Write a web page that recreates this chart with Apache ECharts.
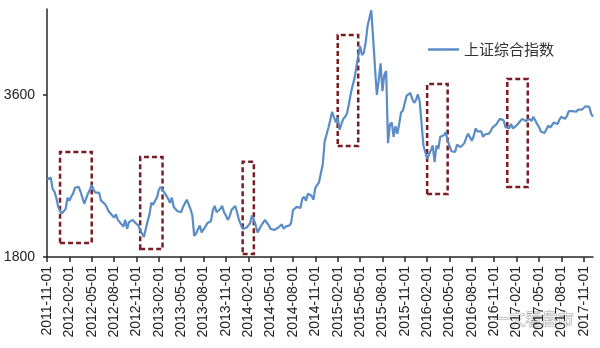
<!DOCTYPE html>
<html>
<head>
<meta charset="utf-8">
<script src="https://cdn.jsdelivr.net/npm/echarts@6/dist/echarts.min.js"></script>
<style>
  html, body { margin: 0; padding: 0; background: #fff; }
  #main { width: 600px; height: 348px; }
</style>
</head>
<body>
<div id="main"></div>
<script>
// 上证综合指数, 每月 01/08/15/22 取值
const seriesName = '上证综合指数';
const startYear = 2011, startMonth = 11;
const sampleDays = ['01', '08', '15', '22'];

const v2011 = [2510, 2500, 2530, 2410,  2380, 2320, 2230, 2190];
const v2012 = [2170, 2190, 2210, 2320,  2290, 2330, 2360, 2420,  2440, 2430, 2380, 2320,
               2260, 2310, 2360, 2400,  2450, 2400, 2370, 2350,  2370, 2290, 2300, 2260,
               2230, 2190, 2170, 2150,  2130, 2160, 2110, 2090,  2070, 2050, 2110, 2030,
               2090, 2100, 2110, 2090,  2100, 2060, 2020, 2010,  1960, 2030, 2100, 2160];
const v2013 = [2270, 2250, 2290, 2320,  2400, 2430, 2420, 2370,  2360, 2310, 2270, 2320,
               2230, 2220, 2190, 2190,  2180, 2230, 2240, 2300,  2290, 2210, 2150, 1970,
               1990, 2000, 2060, 2000,  1990, 2050, 2080, 2070,  2100, 2200, 2240, 2180,
               2170, 2210, 2240, 2180,  2150, 2110, 2140, 2200,  2220, 2240, 2180, 2110];
const v2014 = [2100, 2030, 2020, 2040,  2040, 2080, 2150, 2110,  2060, 2000, 2030, 2060,
               2070, 2110, 2100, 2060,  2030, 2040, 2020, 2030,  2040, 2030, 2070, 2030,
               2050, 2060, 2060, 2080,  2200, 2210, 2230, 2240,  2220, 2310, 2330, 2290,
               2360, 2370, 2340, 2300,  2420, 2430, 2480, 2460,  2680, 2950, 2950, 3130];
const v2015 = [3230, 3350, 3340, 3200,  3270, 3100, 3180, 3250,  3280, 3330, 3460, 3620,
               3750, 3860, 4050, 4250,  4440, 4270, 4310, 4500,  4830, 5000, 5170, 4600,
               4050, 3600, 3830, 4120,  3660, 3920, 3990, 2930,  3170, 3200, 3010, 3150,
               3050, 3180, 3340, 3370,  3380, 3590, 3600, 3630,  3540, 3480, 3520, 3610];
const v2016 = [3500, 3190, 2900, 2900,  2740, 2760, 2840, 2900,  2700, 2900, 2860, 3010,
               3010, 3030, 3070, 2960,  2960, 2830, 2830, 2820,  2910, 2930, 2880, 2880,
               2930, 3000, 3050, 3040,  2960, 3020, 3120, 3080,  3080, 3080, 3010, 3040,
               3050, 3050, 3080, 3130,  3110, 3170, 3210, 3250,  3270, 3230, 3140, 3150];
const v2017 = [3120, 3180, 3120, 3140,  3160, 3170, 3220, 3250,  3240, 3220, 3240, 3250,
               3220, 3280, 3260, 3180,  3140, 3080, 3090, 3060,  3110, 3160, 3130, 3150,
               3200, 3210, 3180, 3240,  3280, 3260, 3250, 3290,  3360, 3370, 3360, 3350,
               3350, 3380, 3390, 3380,  3390, 3430, 3440, 3420,  3320, 3280];

const values = [].concat(v2011, v2012, v2013, v2014, v2015, v2016, v2017);

// categories: one per value
const dates = [];
for (let i = 0; i < values.length; i++) {
  const m = startMonth - 1 + Math.floor(i / 4);
  const y = startYear + Math.floor(m / 12);
  const mm = String(m % 12 + 1).padStart(2, '0');
  dates.push(y + '-' + mm + '-' + sampleDays[i % 4]);
}

const yTicks = [1800, 3600];

// 红色虚线框: [起始日期, 结束日期, 下沿, 上沿]
const boxes = [
  ['2011-12-22', '2012-05-01', 1912, 2821],
  ['2012-11-15', '2013-02-15', 1862, 2761],
  ['2014-01-08', '2014-02-22', 1823, 2704],
  ['2015-02-01', '2015-04-22', 2894, 4653],
  ['2016-02-01', '2016-04-22', 2357, 3774],
  ['2016-12-22', '2017-03-15', 2429, 3855]
];

const chart = echarts.init(document.getElementById('main'));
chart.setOption({
  animation: false,
  grid: { left: 47, right: 7, top: 9, bottom: 91 },
  legend: {
    left: 423, top: 37,
    icon: 'rect',
    itemWidth: 31, itemHeight: 2.5,
    textStyle: { fontFamily: 'Noto Sans CJK SC', fontSize: 15, color: '#333' },
    data: [seriesName]
  },
  xAxis: {
    type: 'category',
    data: dates,
    boundaryGap: false,
    axisLine: { lineStyle: { color: '#262626', width: 1.5 } },
    axisTick: { interval: (i) => i % 12 === 0, length: 5, lineStyle: { color: '#262626', width: 1.5 } },
    axisLabel: {
      interval: (i) => i % 12 === 0,
      rotate: 90, margin: 9,
      fontFamily: 'Liberation Sans', fontSize: 14, color: '#222'
    }
  },
  yAxis: {
    type: 'log',
    logBase: 2,
    min: 1800, max: 5200,
    splitLine: { show: false },
    axisLine: { show: true, lineStyle: { color: '#262626', width: 1.5 } },
    axisTick: { show: true, length: 4, customValues: yTicks, lineStyle: { color: '#262626', width: 1.5 } },
    axisLabel: {
      customValues: yTicks, margin: 12,
      formatter: (v) => String(Math.round(v)),
      fontFamily: 'Liberation Sans', fontSize: 14, color: '#222'
    }
  },
  series: [{
    name: seriesName,
    type: 'line',
    data: values,
    symbol: 'none',
    lineStyle: { color: '#5a8cc6', width: 2.2 },
    itemStyle: { color: '#5a8cc6' },
    markArea: {
      silent: true,
      itemStyle: {
        color: 'rgba(0,0,0,0)',
        borderColor: '#7a1c24',
        borderWidth: 2.5,
        borderType: [5, 3]
      },
      data: boxes.map(b => [
        { xAxis: b[0], yAxis: b[2] },
        { xAxis: b[1], yAxis: b[3] }
      ])
    }
  }],
  graphic: [{
    type: 'text',
    right: 26, top: 310,
    style: {
      text: '一文看盘市',
      font: '16px "Noto Sans CJK SC"',
      fill: 'rgba(255,255,255,0.85)',
      stroke: 'rgba(120,120,120,0.7)',
      lineWidth: 1
    }
  }]
});
</script>
</body>
</html>
